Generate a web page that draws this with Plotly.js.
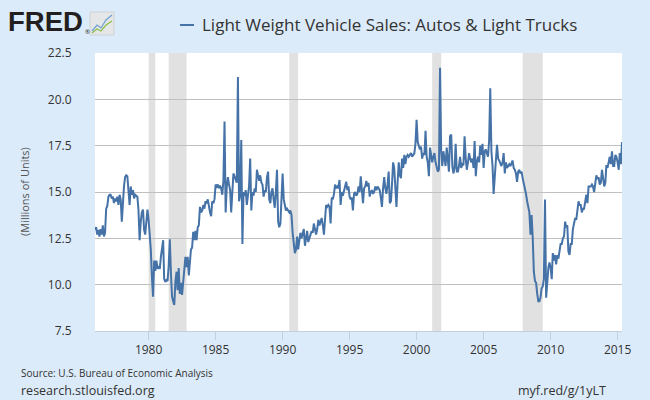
<!DOCTYPE html>
<html>
<head>
<meta charset="utf-8">
<script src="https://cdn.plot.ly/plotly-3.0.1.min.js"></script>
<style>
  html, body { margin: 0; padding: 0; background: #dcebf9; }
  #chart { width: 650px; height: 400px; }
</style>
</head>
<body>
<div id="chart"></div>
<script>
// Light weight vehicle sales, autos & light trucks, SAAR (millions of units), monthly from Jan 1976
const firstMonth = '1976-01';
const sales1976to1979 = [
  12.95, 13.1, 12.7, 12.95, 12.6, 13.0, 12.7, 13.2, 12.6, 12.8, 14.1, 14.25,
  14.75, 14.85, 14.85, 14.65, 14.75, 14.4, 14.65, 14.5, 14.75, 14.3, 14.85, 14.6,
  13.4, 14.5, 15.3, 15.8, 15.9, 15.85, 15.25, 14.3, 15.3, 14.85, 15.1, 14.65,
  14.85, 14.8, 14.75, 14.0, 12.4, 13.4, 13.9, 14.05, 12.95, 12.7, 13.7, 14.05
];
const sales1980s = [
  13.5, 12.8, 11.9, 10.4, 9.35, 11.3, 10.75, 11.3, 10.85, 11.0, 10.85, 11.5,
  12.05, 12.4, 10.3, 10.15, 10.25, 10.2, 11.0, 12.45, 10.6, 9.35, 9.1, 8.9,
  10.2, 10.7, 9.7, 10.9, 9.5, 10.1, 9.45, 10.1, 10.9, 11.5, 10.95, 11.5,
  10.5, 11.3, 11.9, 12.0, 12.85, 12.4, 12.9, 12.4, 13.1, 13.2, 14.2, 13.9,
  14.0, 14.3, 14.1, 14.5, 14.4, 14.6, 14.1, 13.9, 13.7, 14.5, 14.4, 14.6,
  15.4, 15.3, 15.4, 15.2, 15.35, 15.2, 14.85, 15.6, 18.8, 13.9, 15.3, 15.8,
  15.4, 15.1, 13.9, 15.5, 16.0, 15.85, 15.7, 15.5, 21.2, 14.5, 14.8, 17.8,
  12.2, 15.0, 14.8, 15.1, 14.3, 14.9, 15.3, 16.8, 14.0, 15.0, 14.8, 15.2,
  15.0, 16.2, 15.8, 15.6, 15.9, 15.5, 15.4, 14.75, 15.1, 15.0, 15.8, 16.1,
  14.6, 14.4, 15.0, 15.2, 14.6, 14.15, 15.0, 16.2, 13.4, 13.1, 13.3, 14.5
];
const sales1990s = [
  16.0, 14.6, 14.3, 14.0, 14.1, 14.0, 13.9, 14.0, 13.75, 12.8, 12.3, 11.7,
  11.9, 12.6, 11.9, 12.4, 12.8, 12.5, 12.7, 13.0, 12.1, 12.6, 12.9, 12.3,
  12.6, 12.7, 12.9, 12.8, 13.3, 13.05, 12.7, 13.0, 13.5, 13.2, 13.4, 13.6,
  13.2, 12.7, 13.5, 14.3, 14.2, 14.3, 14.2, 13.3, 14.7, 14.6, 14.9, 15.4,
  15.2, 15.3, 15.2, 15.65, 14.3, 15.0, 14.8, 15.1, 15.3, 15.55, 15.1, 15.3,
  14.75, 14.6, 14.7, 14.0, 14.9, 15.0, 14.8, 14.9, 15.3, 15.0, 15.85, 15.0,
  14.4, 15.2, 15.3, 15.6, 15.3, 15.5, 14.75, 15.0, 15.1, 14.9, 15.0, 15.3,
  15.1, 15.3, 15.2, 15.1, 14.7, 14.2, 15.2, 15.8, 15.2, 14.9, 15.4, 16.1,
  14.4, 14.5, 15.4, 16.6, 16.3, 15.4, 14.2, 15.5, 16.6, 15.9, 15.75, 16.8,
  16.3, 17.0, 16.5, 16.9, 17.0, 16.9, 17.0, 17.1, 16.9, 17.0, 17.1, 17.6
];
const sales2000s = [
  18.9, 17.7, 17.55, 17.3, 17.45, 16.8, 17.1, 17.0, 18.3, 16.9, 16.6, 15.85,
  17.4, 16.8, 16.6, 16.9, 17.1, 16.6, 16.3, 16.1, 16.2, 21.7, 17.2, 16.4,
  17.2, 16.8, 16.4, 17.4, 16.8, 16.1, 18.0, 18.1, 16.4, 16.0, 16.3, 17.6,
  16.1, 16.1, 16.4, 16.9, 16.3, 16.5, 16.45, 18.0, 16.8, 16.2, 16.6, 17.1,
  16.8, 16.6, 16.8, 16.3, 17.75, 15.85, 16.6, 16.9, 16.6, 17.5, 17.0, 17.6,
  16.3, 17.2, 17.3, 17.0, 16.9, 17.8, 20.6, 17.2, 16.4, 14.9, 16.2, 16.7,
  17.55, 16.8, 16.7, 16.5, 16.4, 16.6, 17.1, 16.0, 16.6, 16.3, 16.4, 16.5,
  16.4, 16.6, 16.7, 16.3, 16.2, 16.0, 15.55, 16.1, 16.2, 16.0, 16.1, 15.75,
  15.5, 15.3, 14.9, 14.5, 14.2, 13.9, 12.7, 13.75, 12.5, 10.7, 10.2, 10.1,
  9.5, 9.1, 9.1, 9.3, 9.8, 9.9, 10.3, 14.6, 9.3, 10.4, 10.9, 11.2
];
const sales2010s = [
  10.9, 10.3, 11.7, 11.3, 11.6, 11.1, 11.6, 11.4, 11.8, 12.2, 12.2, 12.5,
  12.6, 13.4, 13.1, 13.2, 11.8, 11.6, 12.2, 12.2, 13.0, 13.3, 13.6, 13.5,
  14.1, 14.5, 14.3, 14.3, 13.9, 14.1, 14.1, 14.5, 14.85, 14.4, 15.3, 15.3,
  15.3, 15.4, 15.3, 15.0, 15.6, 15.9, 15.7, 15.8, 15.4, 15.5, 16.2, 15.8,
  15.3, 15.5, 16.45, 16.3, 16.7, 16.9, 16.5, 17.2, 16.4, 16.4, 17.0, 16.9,
  16.6, 16.2, 17.1, 16.5, 17.7
];

// NBER recession periods (shaded)
const recessionStart = ['1980-01-01', '1981-07-01', '1990-07-01', '2001-03-01', '2007-12-01'];
const recessionEnd   = ['1980-07-01', '1982-11-01', '1991-03-01', '2001-11-01', '2009-06-01'];

const yTicks = [7.5, 10.0, 12.5, 15.0, 17.5, 20.0, 22.5];
const seriesName = 'Light Weight Vehicle Sales: Autos & Light Trucks';

const sales = [].concat(sales1976to1979, sales1980s, sales1990s, sales2000s, sales2010s);
const y0 = +firstMonth.slice(0, 4), m0 = +firstMonth.slice(5, 7) - 1;
const dates = sales.map((_, i) => {
  const m = m0 + i;
  const yr = y0 + Math.floor(m / 12);
  const mo = (m % 12) + 1;
  return yr + '-' + String(mo).padStart(2, '0') + '-01';
});

// plot box in page pixels, used to place the header / footer furniture
const L = 95, R = 622, T = 53, B = 331;
const px = x => (x - L) / (R - L);
const py = y => (B - y) / (B - T);

const FONT = 'Open Sans, DejaVu Sans, sans-serif';

const shapes = recessionStart.map((s, i) => ({
  type: 'rect', xref: 'x', yref: 'paper', x0: s, x1: recessionEnd[i], y0: 0, y1: 1,
  fillcolor: '#e1e1e1', line: { width: 0 }, layer: 'between'
}));

// legend swatch
shapes.push({ type: 'line', xref: 'paper', yref: 'paper',
  x0: px(180), x1: px(194), y0: py(25), y1: py(25),
  line: { color: '#4572a7', width: 2 } });

// small chart icon next to the FRED wordmark
shapes.push({ type: 'rect', xref: 'paper', yref: 'paper',
  x0: px(90), x1: px(114), y0: py(35), y1: py(12),
  fillcolor: '#e4e6e8', line: { color: '#cfd3d6', width: 1 } });
const pathPts = pts => 'M' + pts.map(p => px(p[0]) + ',' + py(p[1])).join(' L');
shapes.push({ type: 'path', xref: 'paper', yref: 'paper',
  path: pathPts([[92, 31], [97, 25], [101, 28], [106, 20], [112, 15]]),
  line: { color: '#6f9fd0', width: 1.2 } });
shapes.push({ type: 'path', xref: 'paper', yref: 'paper',
  path: pathPts([[92, 33], [97, 29], [101, 31], [106, 25], [112, 21]]),
  line: { color: '#8cbf4a', width: 1.2 } });

const annotations = [
  { text: '<b>FRED</b>', xref: 'paper', yref: 'paper', x: px(6), y: py(21),
    xanchor: 'left', yanchor: 'middle', showarrow: false,
    font: { family: 'Liberation Sans, Arial, sans-serif', size: 27.5, color: '#231f20' } },
  { text: '®', xref: 'paper', yref: 'paper', x: px(83), y: py(32),
    xanchor: 'left', yanchor: 'middle', showarrow: false,
    font: { family: FONT, size: 6, color: '#231f20' } },
  { text: seriesName, xref: 'paper', yref: 'paper', x: px(200), y: py(25),
    xanchor: 'left', yanchor: 'middle', showarrow: false,
    font: { family: FONT, size: 17, color: '#333333' } },
  { text: '(Millions of Units)', xref: 'paper', yref: 'paper', x: px(24), y: py(192),
    xanchor: 'center', yanchor: 'middle', textangle: -90, showarrow: false,
    font: { family: FONT, size: 11, color: '#555555' } },
  { text: 'Source: U.S. Bureau of Economic Analysis', xref: 'paper', yref: 'paper',
    x: px(19), y: py(373), xanchor: 'left', yanchor: 'middle', showarrow: false,
    font: { family: FONT, size: 10, color: '#333333' } },
  { text: 'research.stlouisfed.org', xref: 'paper', yref: 'paper',
    x: px(19), y: py(390), xanchor: 'left', yanchor: 'middle', showarrow: false,
    font: { family: FONT, size: 12.5, color: '#333333' } },
  { text: 'myf.red/g/1yLT', xref: 'paper', yref: 'paper',
    x: px(608), y: py(390), xanchor: 'right', yanchor: 'middle', showarrow: false,
    font: { family: FONT, size: 12.5, color: '#333333' } }
];

const trace = {
  type: 'scatter', mode: 'lines', x: dates, y: sales, name: seriesName,
  line: { color: '#4572a7', width: 2 }, hoverinfo: 'x+y'
};

const layout = {
  width: 650, height: 400,
  margin: { l: L, r: 650 - R, t: T, b: 400 - B, pad: 0 },
  paper_bgcolor: '#dcebf9', plot_bgcolor: '#ffffff',
  showlegend: false,
  font: { family: FONT, color: '#333333' },
  xaxis: {
    type: 'date', range: [dates[0], dates[dates.length - 1]],
    tick0: '1980-01-01', dtick: 'M60', tickformat: '%Y',
    showgrid: false, zeroline: false,
    showline: true, linecolor: '#c3cfdb', linewidth: 1,
    ticks: 'outside', ticklen: 8, tickcolor: '#c3cfdb', tickwidth: 1,
    tickfont: { family: FONT, size: 12, color: '#333333' }
  },
  yaxis: {
    range: [7.5, 22.5], tickvals: yTicks, tickformat: '.1f',
    showgrid: true, gridcolor: '#c0c0c0', gridwidth: 1, zeroline: false,
    showline: false,
    ticks: 'outside', ticklen: 20, tickcolor: 'rgba(0,0,0,0)',
    tickfont: { family: FONT, size: 12, color: '#333333' }
  },
  shapes: shapes,
  annotations: annotations
};

Plotly.newPlot('chart', [trace], layout, { staticPlot: true, displayModeBar: false });
</script>
</body>
</html>
